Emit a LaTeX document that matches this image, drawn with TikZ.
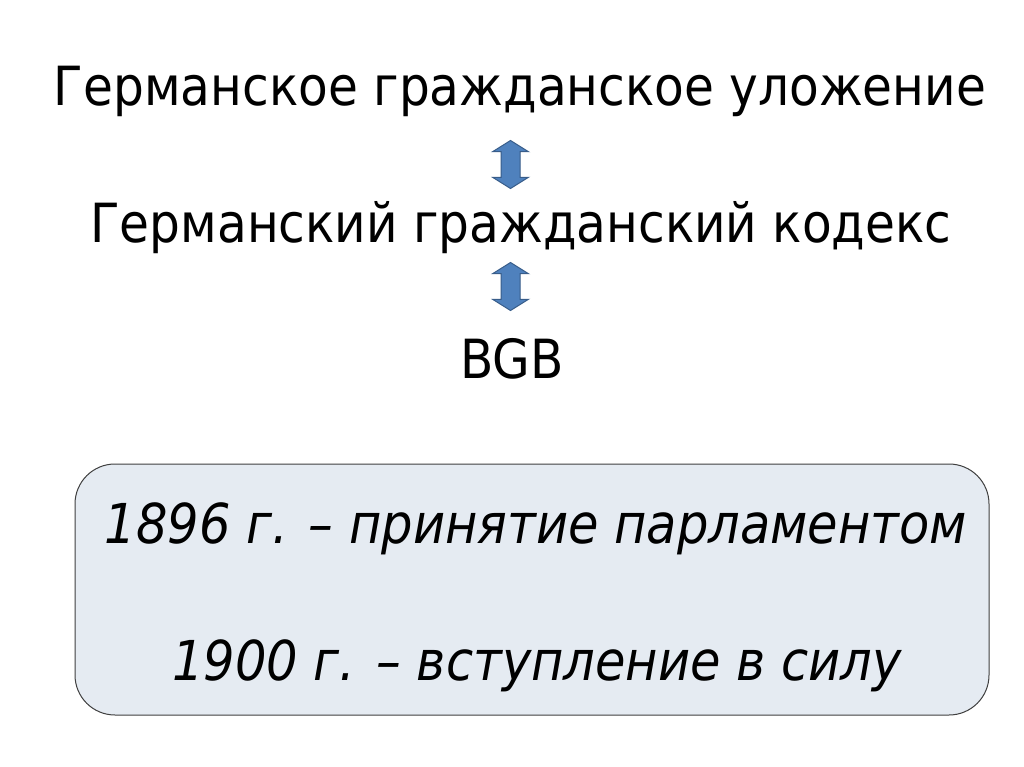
\documentclass[tikz,border=0pt]{standalone}
\usepackage{fontspec}
\setmainfont{DejaVu Sans Condensed}
\usepackage{tikz}
\usetikzlibrary{shapes.arrows}
\definecolor{arrowblue}{HTML}{4F81BD}
\definecolor{arrowline}{HTML}{385D8A}
\definecolor{boxfill}{HTML}{E5EBF2}
\tikzset{
  title/.style={anchor=base, inner sep=0pt, font=\fontsize{54}{60}\selectfont},
  dates/.style={anchor=base, inner sep=0pt, font=\fontsize{55}{60}\selectfont\itshape},
  link/.style={double arrow, rotate=90, draw=arrowline, fill=arrowblue, line width=1pt,
    minimum height=48pt, inner xsep=0pt, inner ysep=9pt, double arrow head extend=8.5pt,
    double arrow tip angle=116}
}
\begin{document}
\begin{tikzpicture}[x=1pt, y=-1pt]
      \useasboundingbox[fill=white] (0, 0) rectangle (1024, 767);
      \node[title] (ggu) at (520, 106) {Германское гражданское уложение};
      \node[title] (ggk) at (521, 243) {Германский гражданский кодекс};
      \node[title] (bgb) at (512, 378) {BGB};
      \node[link] (a1) at (510.5, 164.5) {};
      \node[link] (a2) at (510.5, 286.5) {};
      \draw[draw=black!75, fill=boxfill, rounded corners=40pt, line width=1pt] (75, 464) rectangle (989, 715);
      \node[dates] (d1896) at (536, 543) {1896 г. – принятие парламентом};
      \node[dates] (d1900) at (537, 680) {1900 г. – вступление в силу};
    \end{tikzpicture}
\end{document}
